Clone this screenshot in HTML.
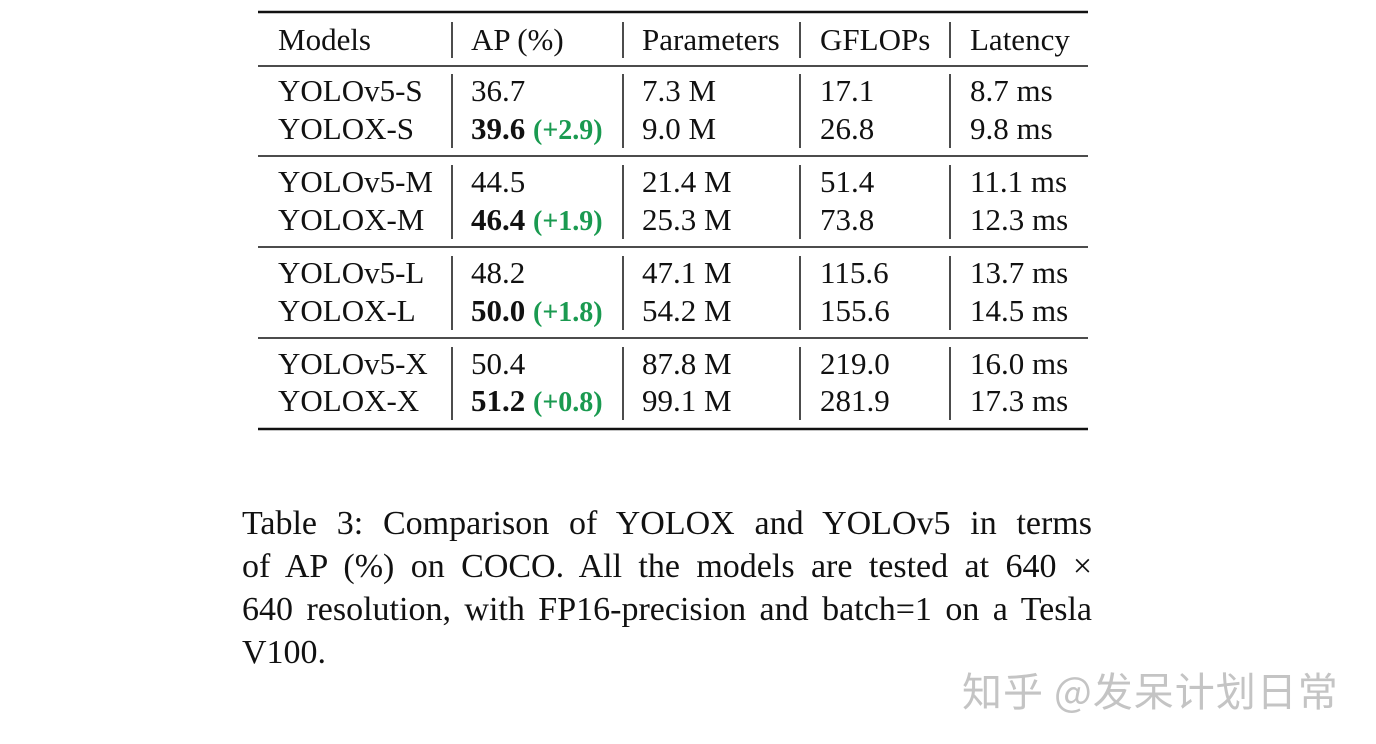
<!DOCTYPE html>
<html><head><meta charset="utf-8">
<style>
body{margin:0;width:1376px;height:744px;background:#fff;overflow:hidden;position:relative}
svg{position:absolute;left:0;top:0}
.t{font-family:"Liberation Serif",serif;font-size:31px;fill:#111}
.b{font-weight:bold}
.g{fill:#1a9a50;font-weight:bold}
#caption{position:absolute;left:242px;top:502px;width:850px;font-family:"Liberation Serif",serif;font-size:34px;line-height:43px;color:#111}
#caption div{text-align:justify;text-align-last:justify;white-space:nowrap}
#caption div.last{text-align-last:left}
#wm{position:absolute;left:962px;top:660px;font-family:"Noto Sans CJK SC",sans-serif;font-size:40px;color:#c4c4c4;letter-spacing:1px}
</style></head><body>
<svg width="1376" height="744">
<g stroke="#111">
<line x1="258" x2="1088" y1="12" y2="12" stroke-width="2.5"/>
<line x1="258" x2="1088" y1="66" y2="66" stroke-width="1.5"/>
<line x1="258" x2="1088" y1="156" y2="156" stroke-width="1.5"/>
<line x1="258" x2="1088" y1="247" y2="247" stroke-width="1.5"/>
<line x1="258" x2="1088" y1="338" y2="338" stroke-width="1.5"/>
<line x1="258" x2="1088" y1="429" y2="429" stroke-width="2.5"/>
</g>
<g id="vlines" stroke="#111" stroke-width="1.5"></g>
<g id="cells"></g>
</svg>
<div id="caption">
<div style="white-space:normal">Table 3: Comparison of YOLOX and YOLOv5 in terms</div>
<div style="white-space:normal">of AP (%) on COCO. All the models are tested at 640 ×</div>
<div style="white-space:normal">640 resolution, with FP16-precision and batch=1 on a Tesla</div>
<div class="last">V100.</div>
</div>
<div id="wm">知乎 @发呆计划日常</div>
<script>
const colX=[278,471,642,820,970];
const vX=[452,623,800,950];
const header=["Models","AP (%)","Parameters","GFLOPs","Latency"];
const models=["YOLOv5-S","YOLOX-S","YOLOv5-M","YOLOX-M","YOLOv5-L","YOLOX-L","YOLOv5-X","YOLOX-X"];
const ap=["36.7","39.6","44.5","46.4","48.2","50.0","50.4","51.2"];
const gain=["","(+2.9)","","(+1.9)","","(+1.8)","","(+0.8)"];
const params=["7.3 M","9.0 M","21.4 M","25.3 M","47.1 M","54.2 M","87.8 M","99.1 M"];
const gflops=["17.1","26.8","51.4","73.8","115.6","155.6","219.0","281.9"];
const latency=["8.7 ms","9.8 ms","11.1 ms","12.3 ms","13.7 ms","14.5 ms","16.0 ms","17.3 ms"];
const NS="http://www.w3.org/2000/svg";
const cells=document.getElementById('cells'),vl=document.getElementById('vlines');
function txt(x,y,s,cls,name){const t=document.createElementNS(NS,'text');t.setAttribute('x',x);t.setAttribute('y',y);t.setAttribute('class',cls);t.textContent=s;


cells.appendChild(t);return t;}
function vline(x,y1,y2){const l=document.createElementNS(NS,'line');l.setAttribute('x1',x);l.setAttribute('x2',x);l.setAttribute('y1',y1);l.setAttribute('y2',y2);


vl.appendChild(l);}
header.forEach((h,i)=>txt(colX[i],50,h,'t','header-'+h.toLowerCase().replace(/[^a-z]+/g,'-')));
vX.forEach(x=>vline(x,22,58));
const rowY=[101,139,192,230,283,321,374,411];
for(let g=0;g<4;g++){const y1=rowY[2*g]-27,y2=rowY[2*g+1]+9;vX.forEach(x=>vline(x,y1,y2));}
models.forEach((m,i)=>{const y=rowY[i];
txt(colX[0],y,m,'t','model-name');
if(gain[i]){const t=document.createElementNS(NS,'text');t.setAttribute('x',colX[1]);t.setAttribute('y',y);t.setAttribute('class','t');


const a=document.createElementNS(NS,'tspan');a.setAttribute('class','b');a.textContent=ap[i]+' ';
const b=document.createElementNS(NS,'tspan');b.setAttribute('class','g');b.setAttribute('font-size','28');b.textContent=gain[i];
t.appendChild(a);t.appendChild(b);cells.appendChild(t);}
else txt(colX[1],y,ap[i],'t','ap-value');
txt(colX[2],y,params[i],'t','parameters-value');
txt(colX[3],y,gflops[i],'t','gflops-value');
txt(colX[4],y,latency[i],'t','latency-value');
});
</script>
</body></html>
